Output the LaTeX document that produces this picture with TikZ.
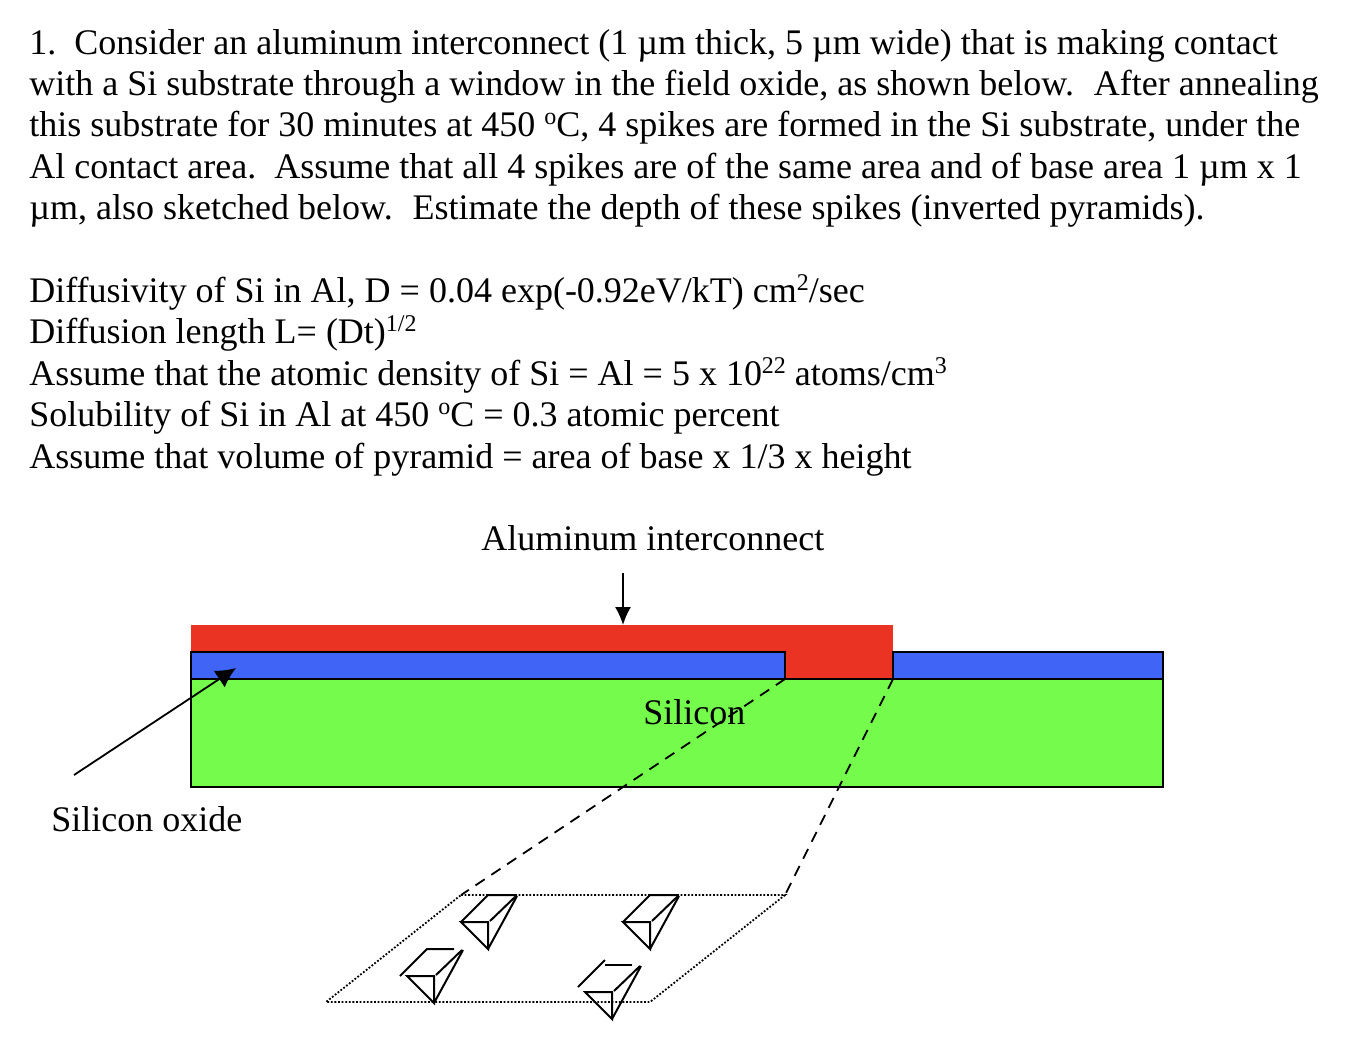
\documentclass[tikz,border=0pt]{standalone}
\usepackage{fontspec}
\setmainfont{Liberation Serif}
\usetikzlibrary{arrows.meta}
\definecolor{alred}{HTML}{EA3323}
\definecolor{oxblue}{HTML}{4065F6}
\definecolor{sigreen}{HTML}{75FB4C}
\newcommand{\sps}[1]{\raisebox{6pt}{\fontsize{12}{12}\selectfont #1}}
\tikzset{
    txt/.style={anchor=base west, inner sep=0pt, font=\fontsize{18}{20}\selectfont},
    edge/.style={line width=0.9pt},
    spk/.style={line width=1pt},
    zoomline/.style={line width=0.9pt, dash pattern=on 5.5pt off 4pt},
    dotline/.style={line width=0.9pt, dash pattern=on 0.9pt off 0.9pt},
    pointer/.style={-{Latex[length=9pt,width=8pt]}, line width=0.8pt},
    bigpointer/.style={-{Latex[length=10pt,width=10pt]}, line width=0.9pt}
}
% one pit: #1 corner, #2 shift of the top edges
\newcommand{\pit}[3]{
    \begin{scope}[shift={(#1,#2)}]
        \draw[spk] (0,0) -- (27,0) -- (27,27) -- cycle;
        \draw[spk] (27,27) -- (56,-26);
        \draw[spk] (29,-1) -- (55,-26);
        #3
    \end{scope}
}
\begin{document}
\begin{tikzpicture}[x=0.5pt,y=-0.5pt]
    \useasboundingbox (0,0) rectangle (1360,1056);
    % the text
    \node[txt] (l1) at (29,54) {1.\ \ Consider an aluminum interconnect (1 µm thick, 5 µm wide) that is making contact};
    \node[txt] (l2) at (29,95) {with a Si substrate through a window in the field oxide, as shown below.\ \ \hspace{1pt}After annealing};
    \node[txt] (l3) at (29,136) {this substrate for 30 minutes at 450 \sps{o}C, 4 spikes are formed in the Si substrate, under the};
    \node[txt] (l4) at (29,178) {Al contact area.\ \ Assume that all 4 spikes are of the same area and of base area 1 µm x 1};
    \node[txt] (l5) at (29,219) {µm, also sketched below.\ \ \hspace{1pt}Estimate the depth of these spikes (inverted pyramids).};
    \node[txt] (l6) at (29,302) {Diffusivity of Si in Al, D = 0.04 exp(-0.92eV/kT) cm\sps{2}/sec};
    \node[txt] (l7) at (29,343) {Diffusion length L= (Dt)\sps{1/2}};
    \node[txt] (l8) at (29,385) {Assume that the atomic density of Si = Al = 5 x 10\sps{22} atoms/cm\sps{3}};
    \node[txt] (l9) at (29,426) {Solubility of Si in Al at 450 \sps{o}C = 0.3 atomic percent};
    \node[txt] (l10) at (29,468) {Assume that volume of pyramid = area of base x 1/3 x height};
    % the layers
    \fill[alred] (191,625) rectangle (893,679);
    \fill[sigreen] (191,679) rectangle (1163,787);
    \draw[edge, fill=oxblue] (191,652) rectangle (785,679);
    \draw[edge, fill=oxblue] (893,652) rectangle (1163,679);
    \draw[edge] (191,679) rectangle (1163,787);
    \draw[edge] (299,787.5) -- (1163,787.5);
    % window corners and the zoomed patch
    \coordinate (winl) at (785,679);
    \coordinate (winr) at (893,679);
    \coordinate (patchbl) at (326,1002);
    \coordinate (patchbr) at (650,1002);
    \coordinate (patchtr) at (785,895);
    \coordinate (patchtl) at (461,895);
    \node[txt] (silicon) at (643,724) {Silicon};
    \draw[zoomline] (winl) -- (patchtl);
    \draw[zoomline] (winr) -- (patchtr);
    \draw[dotline] (patchtl) -- (patchtr) -- (patchbr) -- (patchbl) -- cycle;
    % labels with arrows
    \node[txt] (alu) at (481,550) {Aluminum interconnect};
    \node[txt] (oxide) at (51,831) {Silicon oxide};
    \coordinate (alustart) at (623,573);
    \coordinate (aluend) at (623,625);
    \coordinate (oxstart) at (74,775);
    \coordinate (oxend) at (236,668);
    \draw[pointer] (alustart) -- (aluend);
    \draw[bigpointer] (oxstart) -- (oxend);
    % the four pits
    \pit{461}{922}{\draw[spk] (0,0) -- (27,-27) -- (56,-27);}
    \pit{623}{922}{\draw[spk] (0,0) -- (27,-27) -- (56,-27);}
    \pit{407}{976}{\draw[spk] (-7,0) -- (20,-27) -- (47,-27);}
    \pit{585}{992}{\draw[spk] (-7,-5) -- (20,-32); \draw[spk] (20,-27) -- (47,-27);}
\end{tikzpicture}
\end{document}
